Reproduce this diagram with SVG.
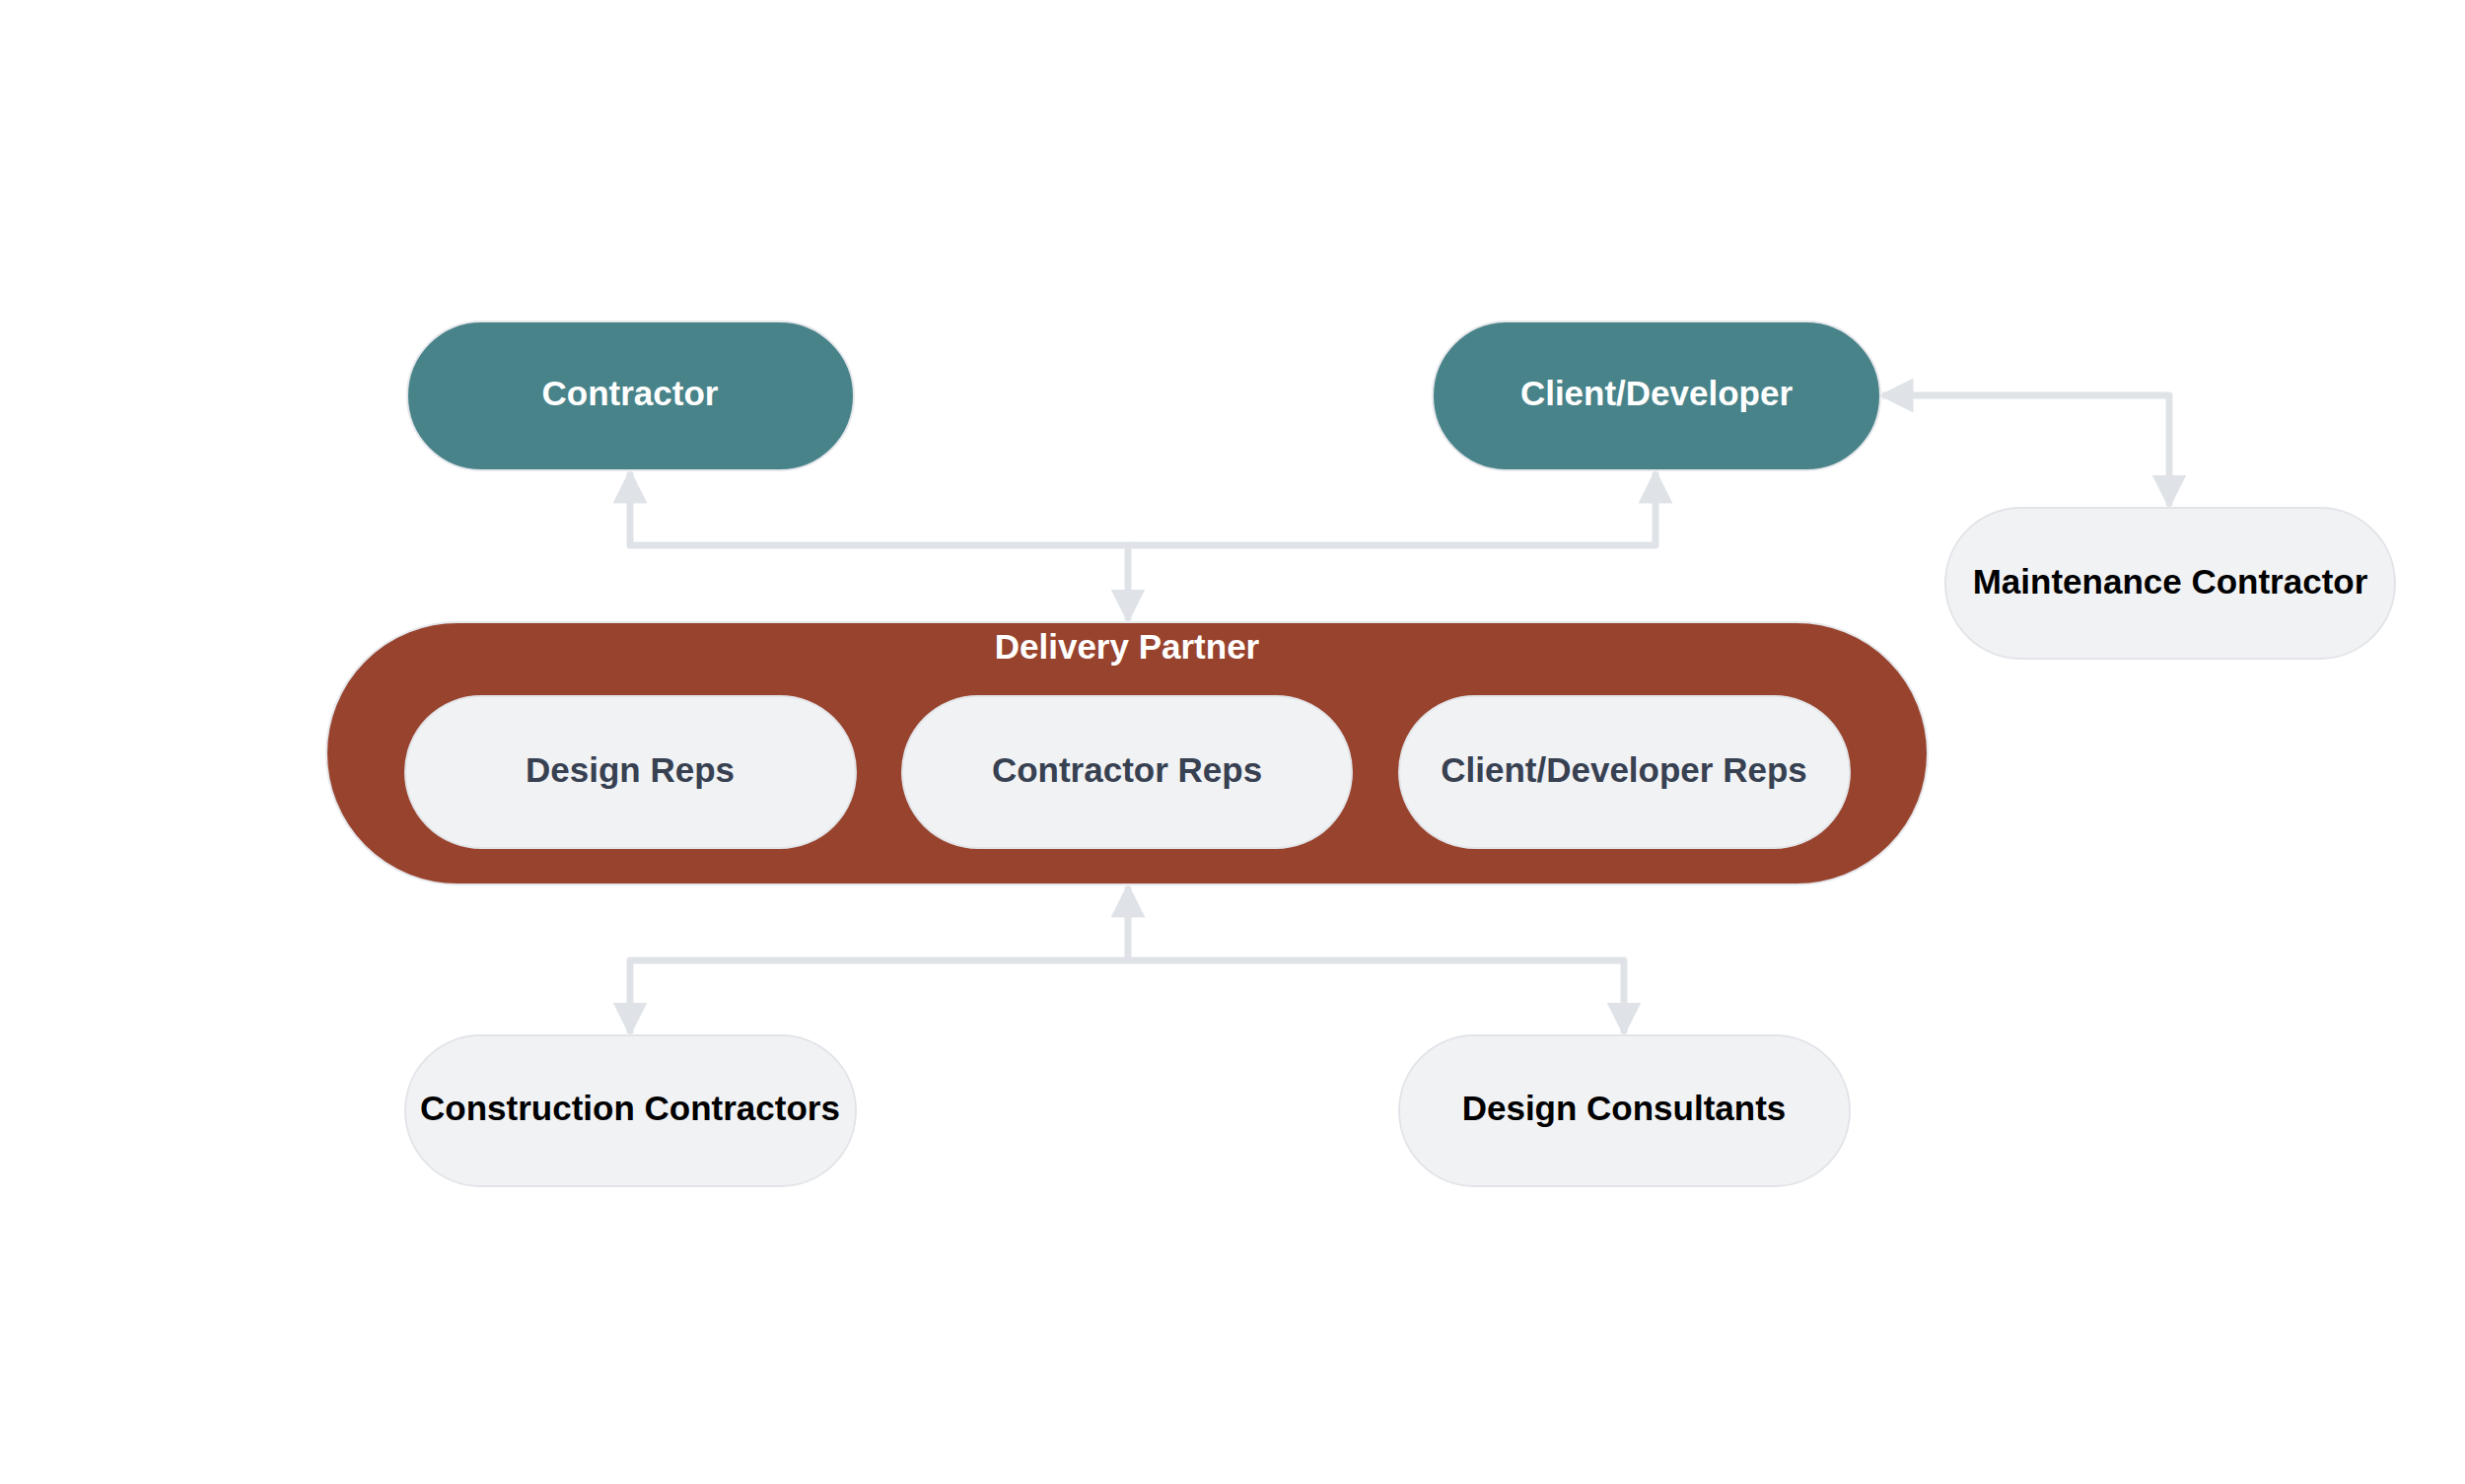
<svg xmlns="http://www.w3.org/2000/svg" width="2500" height="1505" viewBox="0 0 2500 1505">
<style>
.t{font-family:"Liberation Sans",Arial,sans-serif;font-weight:bold;font-size:35px;text-anchor:middle;dominant-baseline:central}
.teal{fill:#48838a;stroke:#e5e7eb;stroke-width:2}
.grey{fill:#f1f2f4;stroke:#e2e4e8;stroke-width:2}
.c{fill:none;stroke:#dfe3e8;stroke-width:7;stroke-linejoin:round}
</style>
<defs>
<marker id="a" viewBox="0 0 10 10" refX="9" refY="5" markerWidth="5" markerHeight="5" orient="auto-start-reverse" markerUnits="strokeWidth"><path d="M0,0L10,5L0,10z" fill="#dfe3e8"/></marker>
</defs>
<rect width="2500" height="1505" fill="#fff"/>
<g id="connectors">
<path class="c" d="M1144,629V553H639V479" marker-start="url(#a)" marker-end="url(#a)"/>
<path class="c" d="M1144,553H1679V479" marker-end="url(#a)"/>
<path class="c" d="M1909,401H2200V513" marker-start="url(#a)" marker-end="url(#a)"/>
<path class="c" d="M1144,899V974H639V1048" marker-start="url(#a)" marker-end="url(#a)"/>
<path class="c" d="M1144,974H1647V1048" marker-end="url(#a)"/>
</g>
<g id="contractor"><rect class="teal" x="413" y="326" width="453" height="151" rx="75.5"/><text class="t" x="639" y="398" fill="#fff">Contractor</text></g>
<g id="client"><rect class="teal" x="1453" y="326" width="454" height="151" rx="75.5"/><text class="t" x="1680" y="398" fill="#fff">Client/Developer</text></g>
<g id="maintenance"><rect class="grey" x="1973" y="515" width="456" height="153" rx="76.5"/><text class="t" x="2201" y="589" fill="#000">Maintenance Contractor</text></g>
<g id="delivery"><rect x="331" y="631" width="1624" height="266" rx="133" fill="#98432e" stroke="#e5e7eb" stroke-width="2"/><text class="t" x="1143" y="655" fill="#fff">Delivery Partner</text></g>
<g id="designreps"><rect class="grey" x="411" y="706" width="457" height="154" rx="77"/><text class="t" x="639" y="780" fill="#374151">Design Reps</text></g>
<g id="contractorreps"><rect class="grey" x="915" y="706" width="456" height="154" rx="77"/><text class="t" x="1143" y="780" fill="#374151">Contractor Reps</text></g>
<g id="clientreps"><rect class="grey" x="1419" y="706" width="457" height="154" rx="77"/><text class="t" x="1647" y="780" fill="#374151">Client/Developer Reps</text></g>
<g id="construction"><rect class="grey" x="411" y="1050" width="457" height="153" rx="76.5"/><text class="t" x="639" y="1123" fill="#000">Construction Contractors</text></g>
<g id="consultants"><rect class="grey" x="1419" y="1050" width="457" height="153" rx="76.5"/><text class="t" x="1647" y="1123" fill="#000">Design Consultants</text></g>
</svg>
